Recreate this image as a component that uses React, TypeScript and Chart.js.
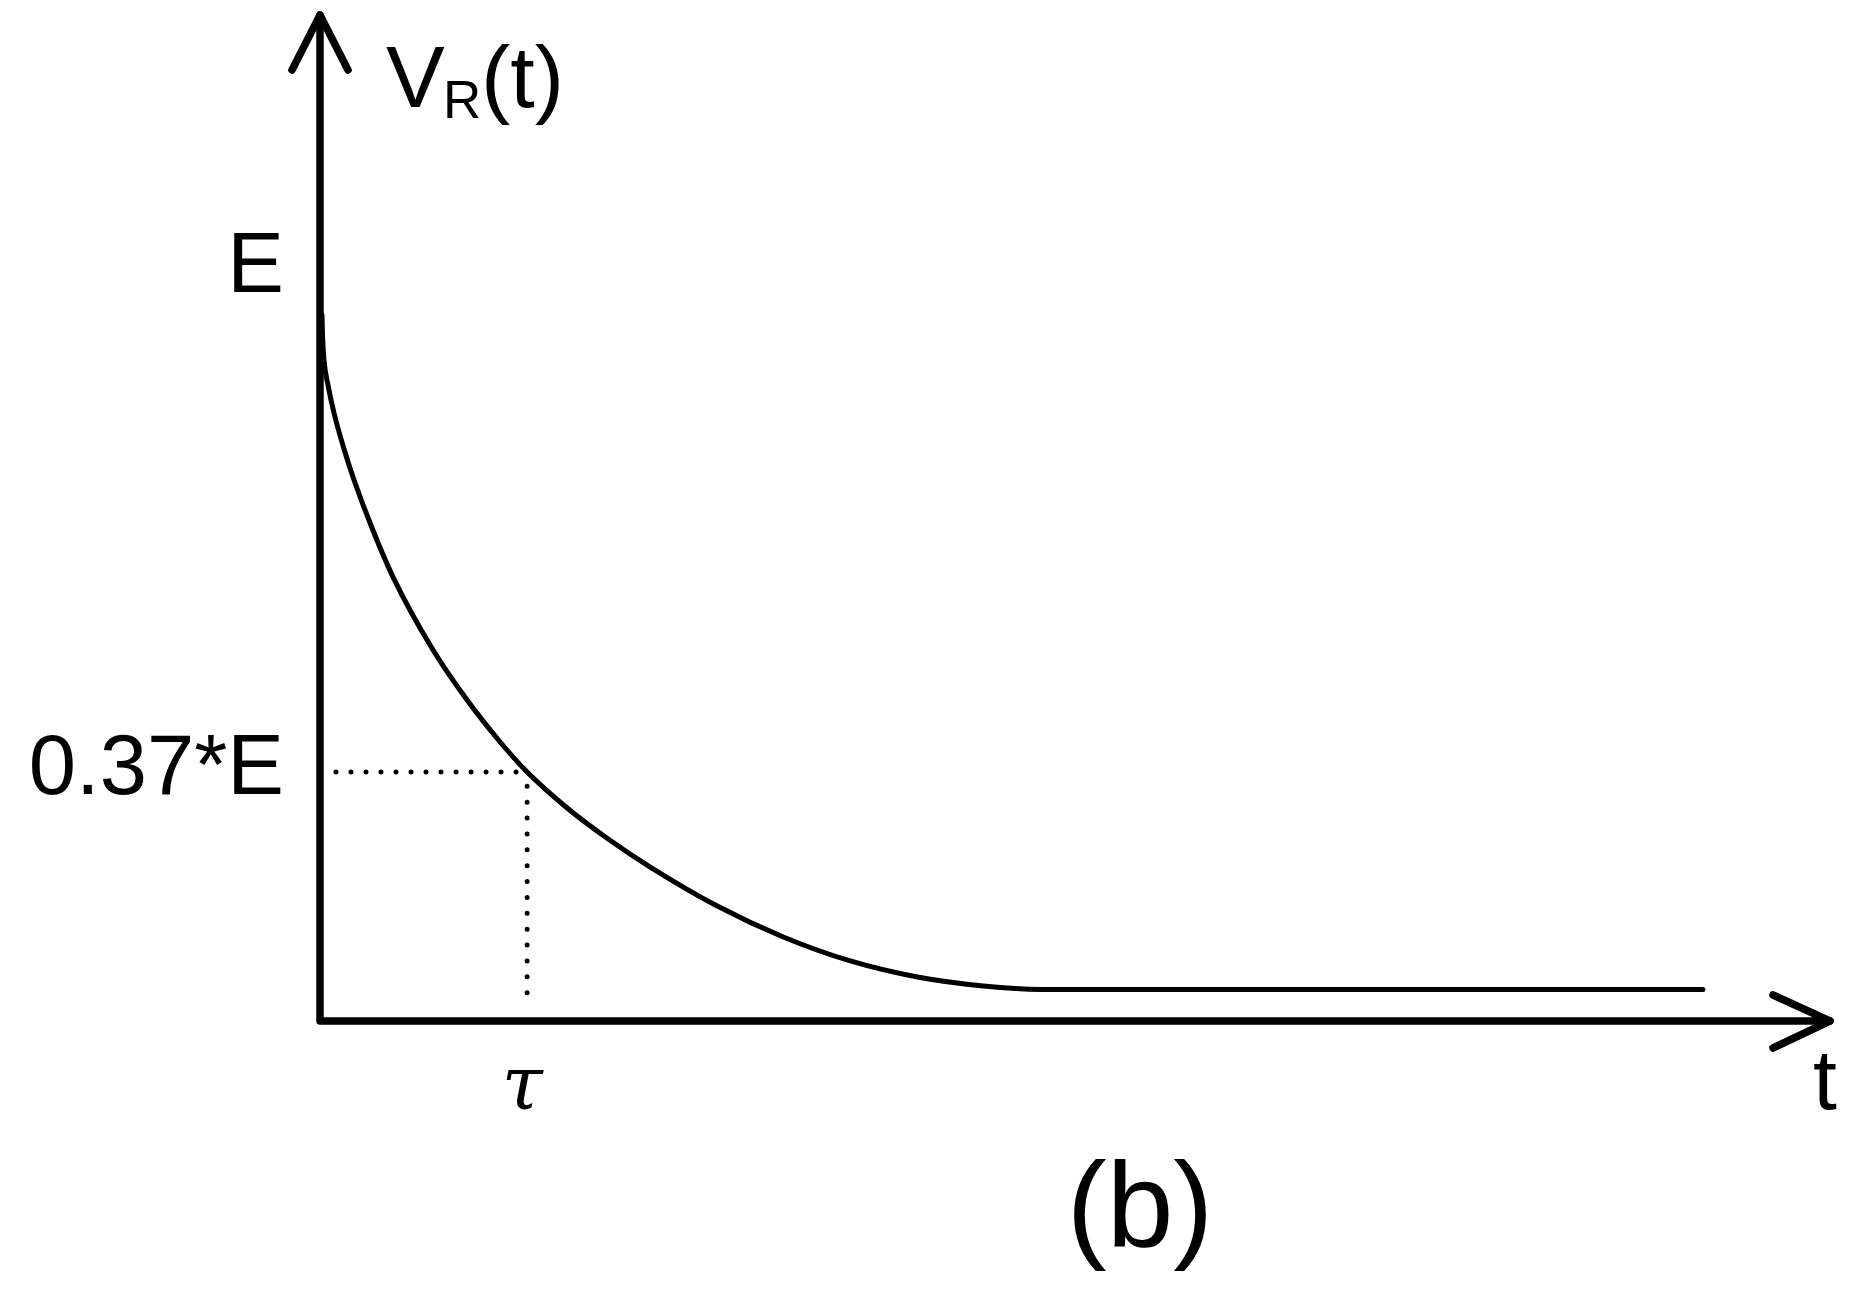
import React, { useEffect, useRef } from "react";
import { Chart, registerables } from "chart.js";

Chart.register(...registerables);

// ---- data (t in units of tau, V in units of E) ----
const curveT = [0.0097, 0.0121, 0.0193, 0.0386, 0.0676, 0.1159, 0.1643, 0.2512, 0.3527, 0.5459, 0.7101, 0.8696, 1.0, 1.1932, 1.3913, 1.5942, 1.9179, 2.2367, 2.5604, 2.8841, 3.2029, 3.4783, 6.6763];
const curveV = [0.9326, 0.9062, 0.8732, 0.8402, 0.8032, 0.7556, 0.7147, 0.6513, 0.5865, 0.4901, 0.424, 0.3686, 0.3289, 0.2814, 0.2404, 0.2034, 0.1519, 0.111, 0.0793, 0.0581, 0.0462, 0.0416, 0.0416];

const levelT = [0.077, 1.0];
const levelV = [0.329, 0.329];
const tauDropT = [1.0, 1.0];
const tauDropV = [0.31, 0.017];

const yTickValues = [1.0, 0.337];
const yTickLabels = ["E", "0.37*E"];
const xTickValues = [1.0];
const xTickLabels = ["τ"];

const xMax = 7.29;
const yMax = 1.329;

const yTitleMain = "V";
const yTitleSub = "R";
const yTitleTail = "(t)";
const xTitle = "t";
const caption = "(b)";

const SANS = '"Liberation Sans", Arial, sans-serif';

const axesPlugin = {
  id: "axesArrows",
  beforeDatasetsDraw(chart: any) {
    const { ctx } = chart;
    const xs = chart.scales.x;
    const ys = chart.scales.y;
    const left = xs.getPixelForValue(0);
    const right = xs.getPixelForValue(xMax);
    const bottom = ys.getPixelForValue(0);
    const top = ys.getPixelForValue(yMax);
    ctx.save();
    ctx.strokeStyle = "#000";
    ctx.lineWidth = 7.5;
    ctx.lineJoin = "round";
    ctx.lineCap = "round";
    ctx.beginPath();
    ctx.moveTo(left, top);
    ctx.lineTo(left, bottom);
    ctx.lineTo(right, bottom);
    ctx.stroke();
    ctx.beginPath();
    ctx.moveTo(left - 28, top + 55);
    ctx.lineTo(left, top);
    ctx.lineTo(left + 28, top + 55);
    ctx.stroke();
    ctx.beginPath();
    ctx.moveTo(right - 57, bottom - 26);
    ctx.lineTo(right, bottom);
    ctx.lineTo(right - 57, bottom + 27);
    ctx.stroke();
    ctx.restore();
  },
  afterDraw(chart: any) {
    const { ctx } = chart;
    ctx.save();
    ctx.fillStyle = "#000";
    ctx.textBaseline = "alphabetic";
    ctx.textAlign = "left";
    ctx.font = `88px ${SANS}`;
    ctx.fillText(yTitleMain, 386, 107);
    ctx.font = `53px ${SANS}`;
    ctx.fillText(yTitleSub, 443, 118);
    ctx.font = `88px ${SANS}`;
    ctx.fillText(yTitleTail, 481, 107);
    ctx.font = `86px ${SANS}`;
    ctx.fillText(xTitle, 1813, 1109);
    ctx.font = `120px ${SANS}`;
    ctx.textAlign = "center";
    ctx.fillText(caption, 1140, 1246);
    ctx.restore();
  },
};

export default function App() {
  const canvasRef = useRef<HTMLCanvasElement | null>(null);

  useEffect(() => {
    const canvas = canvasRef.current;
    if (!canvas) return;
    const chart = new Chart(canvas, {
      type: "line",
      data: {
        datasets: [
          {
            data: curveT.map((t, i) => ({ x: t, y: curveV[i] })),
            borderColor: "#000",
            borderWidth: 5,
            borderCapStyle: "round",
            borderJoinStyle: "round",
            cubicInterpolationMode: "monotone",
            pointRadius: 0,
            fill: false,
          },
          {
            data: levelT.map((t, i) => ({ x: t, y: levelV[i] })),
            borderColor: "#000",
            borderWidth: 5,
            borderCapStyle: "round",
            borderDash: [0.01, 15],
            pointRadius: 0,
            fill: false,
          },
          {
            data: tauDropT.map((t, i) => ({ x: t, y: tauDropV[i] })),
            borderColor: "#000",
            borderWidth: 5,
            borderCapStyle: "round",
            borderDash: [0.01, 15.86],
            pointRadius: 0,
            fill: false,
          },
        ],
      },
      options: {
        animation: false,
        responsive: false,
        maintainAspectRatio: false,
        layout: { padding: { left: 0, top: 15, right: 32, bottom: 0 } },
        plugins: {
          legend: { display: false },
          tooltip: { enabled: false },
          title: { display: false },
        },
        scales: {
          x: {
            type: "linear",
            min: 0,
            max: xMax,
            grid: { display: false, drawTicks: false },
            border: { display: false },
            afterFit: (scale: any) => {
              scale.height = 273;
              scale.paddingLeft = 0;
              scale.paddingRight = 0;
            },
            afterBuildTicks: (scale: any) => {
              scale.ticks = xTickValues.map((v) => ({ value: v }));
            },
            ticks: {
              autoSkip: false,
              maxRotation: 0,
              padding: 24,
              labelOffset: -5,
              color: "#000",
              font: { family: '"DejaVu Serif", "Liberation Serif", serif', style: "italic", size: 74 },
              callback: (_v: any, i: number) => xTickLabels[i],
            },
          },
          y: {
            type: "linear",
            min: 0,
            max: yMax,
            grid: { display: false, drawTicks: false },
            border: { display: false },
            afterFit: (scale: any) => {
              scale.width = 320;
              scale.paddingTop = 0;
              scale.paddingBottom = 0;
            },
            afterBuildTicks: (scale: any) => {
              scale.ticks = yTickValues.map((v) => ({ value: v }));
            },
            ticks: {
              autoSkip: false,
              padding: 36,
              labelOffset: 5,
              color: "#000",
              font: { family: SANS, size: 85 },
              callback: (_v: any, i: number) => yTickLabels[i],
            },
          },
        },
      },
      plugins: [axesPlugin],
    } as any);
    return () => chart.destroy();
  }, []);

  return (
    <div style={{ position: "fixed", left: 0, top: 0, width: 1862, height: 1294, background: "#fff" }}>
      <canvas ref={canvasRef} width={1862} height={1294} style={{ display: "block" }} />
    </div>
  );
}
